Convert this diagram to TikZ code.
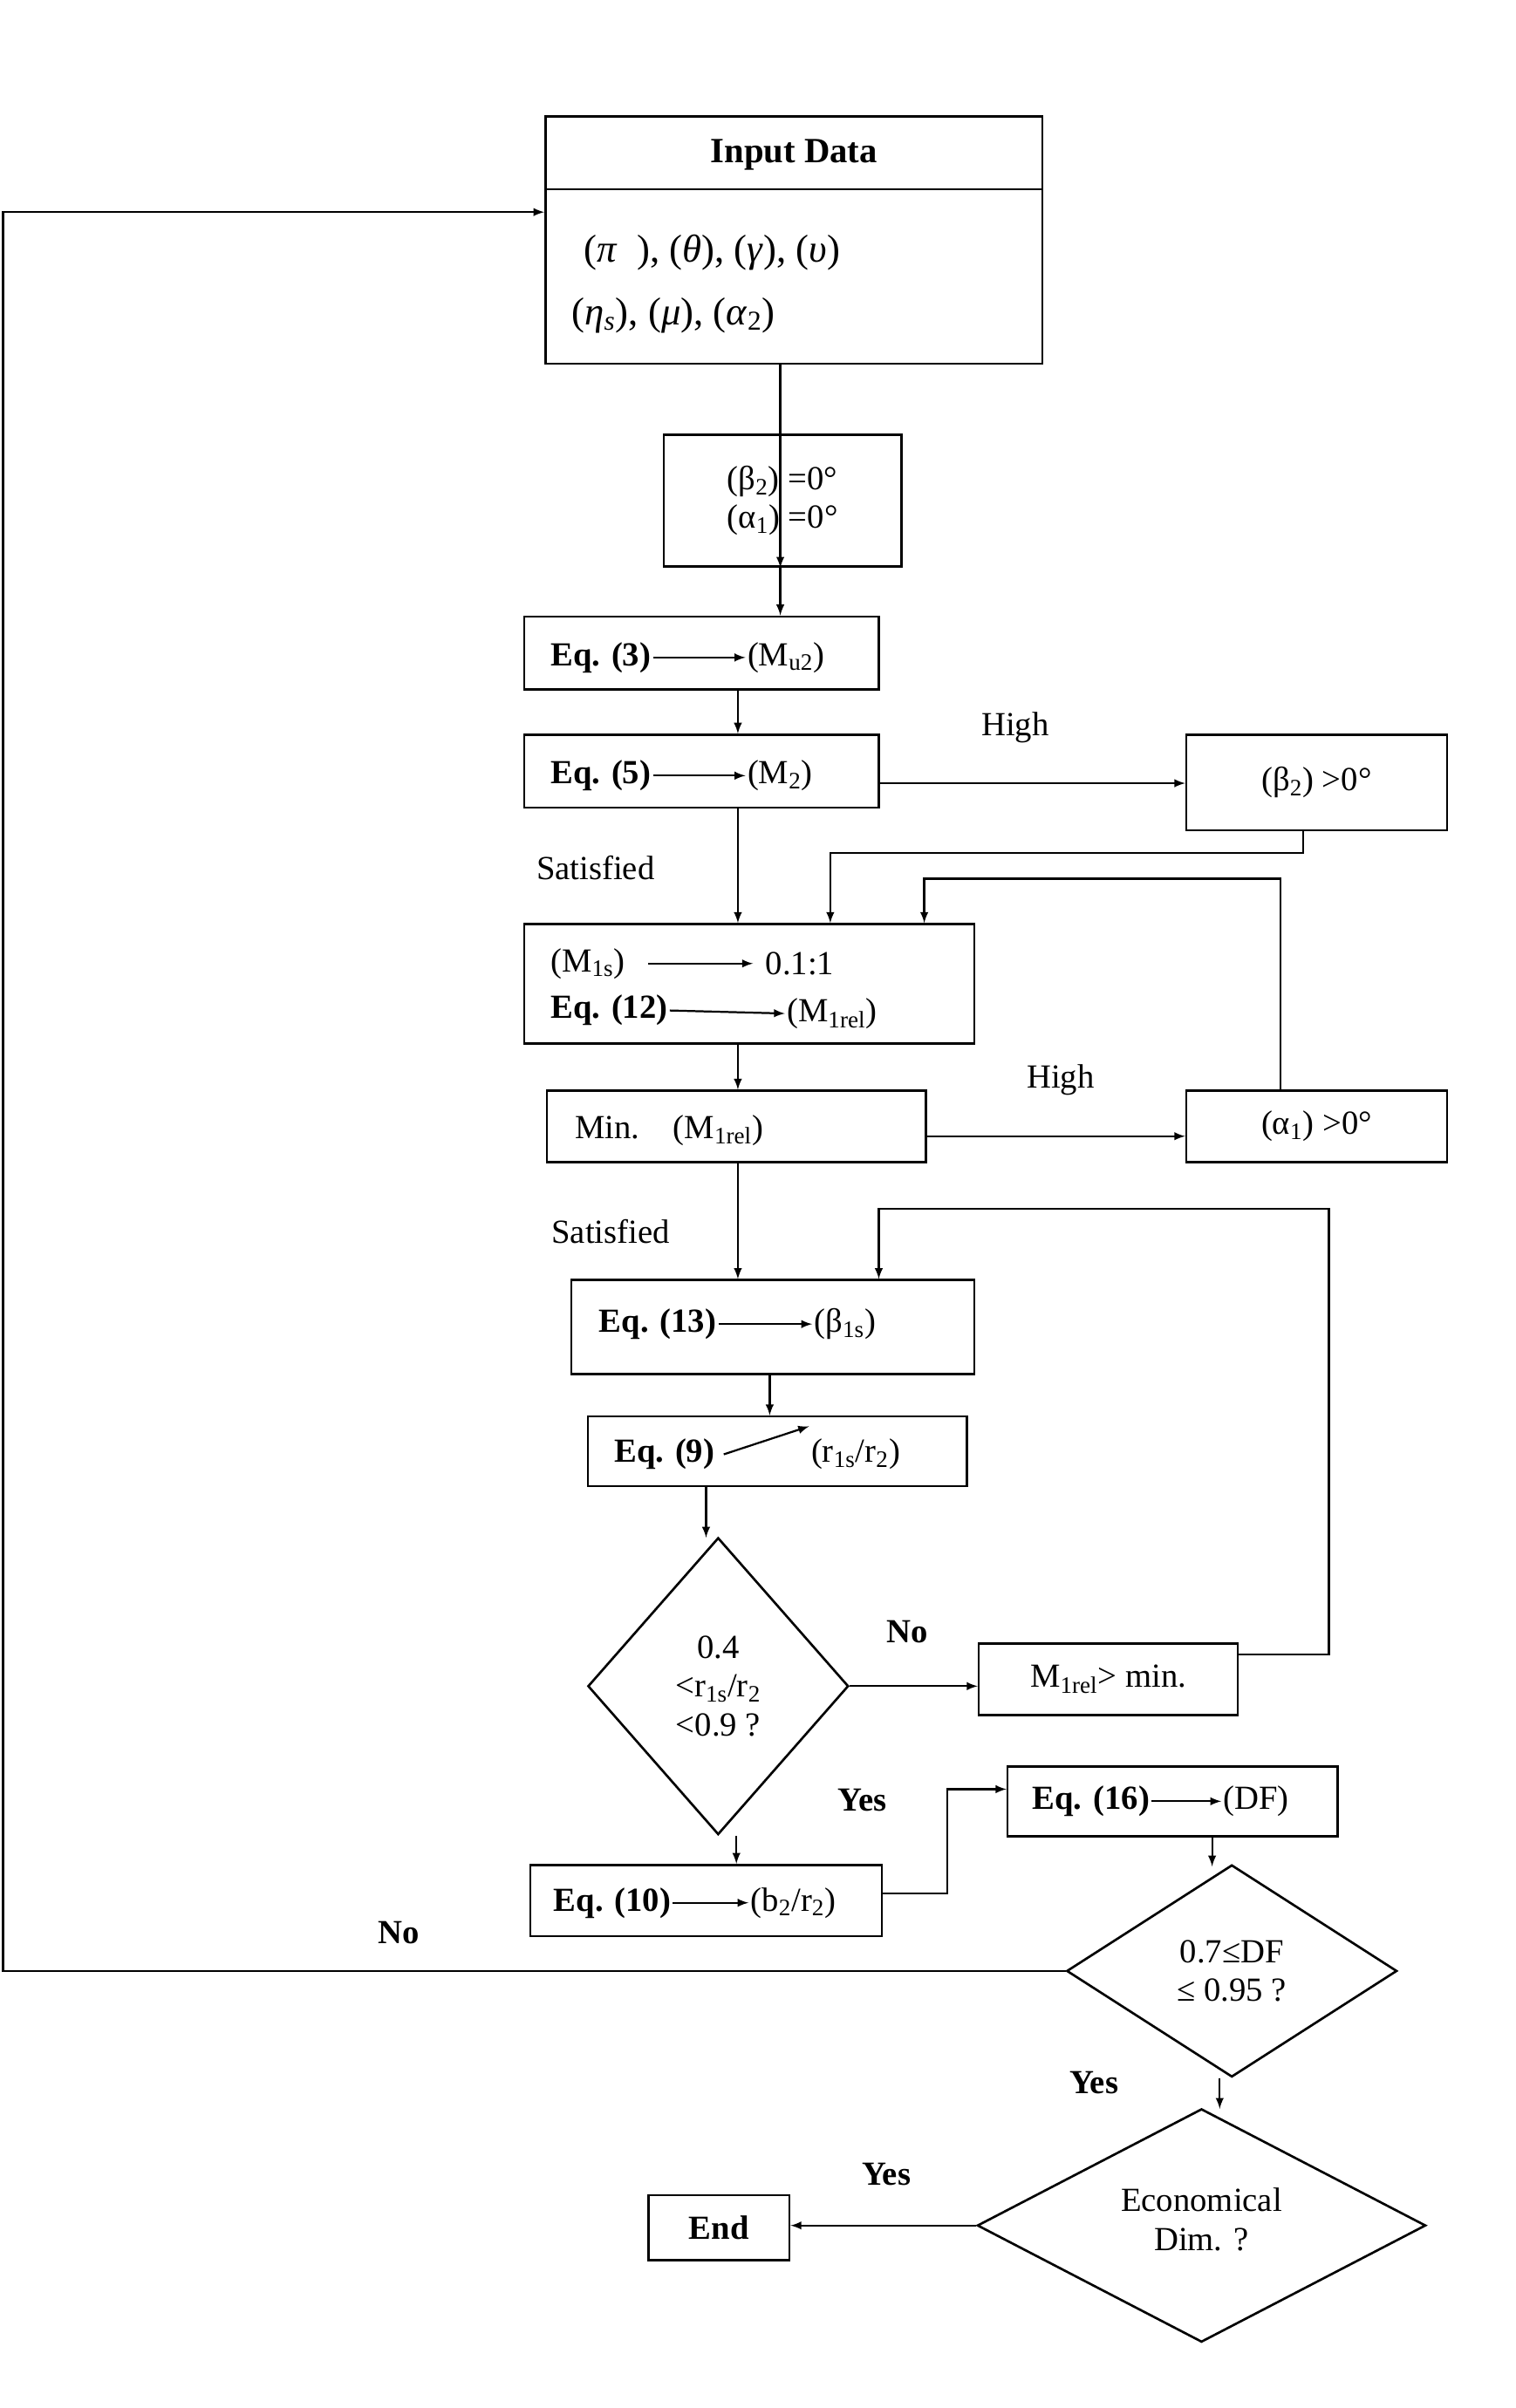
\documentclass[tikz,border=0pt]{standalone}
\usepackage{fontspec}
\setmainfont{Liberation Serif}
\usetikzlibrary{arrows,shapes.geometric}
\begin{document}
\begin{tikzpicture}[x=0.03cm,y=-0.03cm,font=\fontsize{19}{22}\selectfont,
  box/.style={draw,line width=1.3pt,inner sep=0pt},
  sz/.style 2 args={minimum width=#1*0.03cm,minimum height=#2*0.03cm},
  dia/.style={draw,diamond,line width=1.3pt,inner sep=0pt},
  ln/.style={line width=1.1pt},
  arr/.style={ln,-latex},
  lbl/.style={inner sep=1pt,anchor=west}]
\useasboundingbox (0,0) rectangle (1000,1589.5);
% boxes
\node[box,sz={328}{163}] (inp) at (524,158.5) {};
\draw[ln] (inp.west |- 0,125) -- (inp.east |- 0,125);
\node[font=\fontsize{20}{22}\selectfont\bfseries] (ttl) at (524,102) {Input Data};
\node[lbl,font=\fontsize{22}{24}\selectfont] (in1) at (384,167) {(\textit{π}~~), (\textit{θ}), (\textit{γ}), (\textit{υ})};
\node[lbl,font=\fontsize{22}{24}\selectfont] (in2) at (376,208) {(\textit{η}\textsubscript{\textit{s}}), (\textit{μ}), (\textit{α}\textsubscript{2})};
\node[box,sz={157}{87},align=left] (zero) at (516.5,330.5) {(β\textsubscript{2}) =0°\\(α\textsubscript{1}) =0°};
\node[box,sz={234}{48}] (eq3) at (463,431) {};
\node[lbl] (e3a) at (362,434) {\textbf{Eq. (3)}};
\node[lbl] (e3b) at (492,434) {(M\textsubscript{u2})};
\draw[arr] (e3a.east) -- (e3b.west);
\node[box,sz={234}{48}] (eq5) at (463,509) {};
\node[lbl] (e5a) at (362,512) {\textbf{Eq. (5)}};
\node[lbl] (e5b) at (492,512) {(M\textsubscript{2})};
\draw[arr] (e5a.east) -- (e5b.west);
\node[box,sz={172}{63}] (bpos) at (869,516.5) {(β\textsubscript{2}) >0°};
\node[box,sz={297}{79}] (m1s) at (494.5,649.5) {};
\node[lbl] (m1a) at (362,636) {(M\textsubscript{1s})};
\node[lbl] (m1b) at (504,636) {0.1:1};
\node[lbl] (m1c) at (362,667) {\textbf{Eq. (12)}};
\node[lbl] (m1d) at (518,669) {(M\textsubscript{1rel})};
\draw[arr] ([xshift=12pt]m1a.east) -- ([xshift=-6pt]m1b.west);
\draw[arr] (m1c.east) -- (m1d.west);
\node[box,sz={250}{47}] (mini) at (486,743.5) {};
\node[lbl] (mn) at (378,746) {Min.~~~~(M\textsubscript{1rel})};
\node[box,sz={172}{47}] (apos) at (869,743.5) {(α\textsubscript{1}) >0°};
\node[box,sz={266}{62}] (eq13) at (510,876) {};
\node[lbl] (e13a) at (394,874) {\textbf{Eq. (13)}};
\node[lbl] (e13b) at (536,874) {(β\textsubscript{1s})};
\draw[arr] (e13a.east) -- (e13b.west);
\node[box,sz={250}{46}] (eq9) at (513,958) {};
\node[lbl] (e9a) at (404,960) {\textbf{Eq. (9)}};
\node[lbl] (e9b) at (534,960) {(r\textsubscript{1s}/r\textsubscript{2})};
\draw[arr] ([xshift=4pt]e9a.east) -- ([yshift=6pt]e9b.north west);
\node[dia,sz={172}{196}] (rat) at (474,1113) {};
\node[align=center] (ratt) at (474,1113) {0.4\\<r\textsubscript{1s}/r\textsubscript{2}\\<0.9 ?};
\node[box,sz={171}{47}] (mmin) at (731.5,1108.5) {M\textsubscript{1rel}> min.};
\node[box,sz={232}{47}] (eq10) at (466,1254.5) {};
\node[lbl] (e10a) at (364,1256) {\textbf{Eq. (10)}};
\node[lbl] (e10b) at (494,1256) {(b\textsubscript{2}/r\textsubscript{2})};
\draw[arr] (e10a.east) -- (e10b.west);
\node[box,sz={218}{46}] (eq16) at (774,1189) {};
\node[lbl] (e16a) at (680,1189) {\textbf{Eq. (16)}};
\node[lbl] (e16b) at (806,1189) {(DF)};
\draw[arr] (e16a.east) -- (e16b.west);
\node[dia,sz={218}{140}] (df) at (813,1301) {};
\node[align=center] (dft) at (813,1301) {0.7≤DF\\≤ 0.95 ?};
\node[dia,sz={296}{154}] (eco) at (793,1469) {};
\node[align=center] (ecot) at (793,1465) {Economical\\Dim. ?};
\node[box,sz={93}{43},font=\fontsize{19}{22}\selectfont\bfseries] (end) at (474.5,1470.5) {End};
% connectors
\coordinate (lft) at (2,1301);
\draw[arr] (df.west) -- (lft) |- (inp.west |- 0,140);
\draw[arr] (inp.south -| 515,0) -- (zero.south -| 515,0 |- zero.north);
\draw[arr] (zero.south -| 515,0) -- (eq3.north -| 515,0);
\draw[arr] (eq3.south -| 487,0) -- (eq5.north -| 487,0);
\draw[arr] (eq5.east |- 0,517) -- (bpos.west |- 0,517);
\draw[arr] (bpos.south -| 860,0) |- (548,563) -- (m1s.north -| 548,0);
\draw[arr] (eq5.south -| 487,0) -- (m1s.north -| 487,0);
\draw[arr] (m1s.south -| 487,0) -- (mini.north -| 487,0);
\draw[arr] (mini.east |- 0,750) -- (apos.west |- 0,750);
\draw[arr] (apos.north -| 845,0) |- (610,580) -- (m1s.north -| 610,0);
\draw[arr] (mini.south -| 487,0) -- (eq13.north -| 487,0);
\draw[arr] (eq13.south -| 508,0) -- (eq9.north -| 508,0);
\draw[arr] (eq9.south -| 466,0) -- (466,1015);
\draw[arr] (rat.east) -- (mmin.west |- rat.east);
\draw[arr] (mmin.east |- 0,1092) -| (877,798) -| (eq13.north -| 580,0);
\draw[arr] (rat.south -| 486,0) -- (eq10.north -| 486,0);
\draw[arr] (eq10.east |- 0,1250) -| (625,1181) -- (eq16.west |- 0,1181);
\draw[arr] (eq16.south -| 800,0) -- (800,1232);
\draw[arr] (df.south -| 805,0) -- (805,1392);
\draw[arr] (eco.west) -- (end.east |- eco.west);
% labels
\node (hi1) at (670,480) {High};
\node (hi2) at (700,713) {High};
\node (sa1) at (393,573) {Satisfied};
\node (sa2) at (403,813) {Satisfied};
\node[font=\fontsize{19}{22}\selectfont\bfseries] (no1) at (599,1077) {No};
\node[font=\fontsize{19}{22}\selectfont\bfseries] (ye1) at (569,1188) {Yes};
\node[font=\fontsize{19}{22}\selectfont\bfseries] (no2) at (263,1276) {No};
\node[font=\fontsize{19}{22}\selectfont\bfseries] (ye2) at (722,1375) {Yes};
\node[font=\fontsize{19}{22}\selectfont\bfseries] (ye3) at (585,1435) {Yes};
\end{tikzpicture}
\end{document}
